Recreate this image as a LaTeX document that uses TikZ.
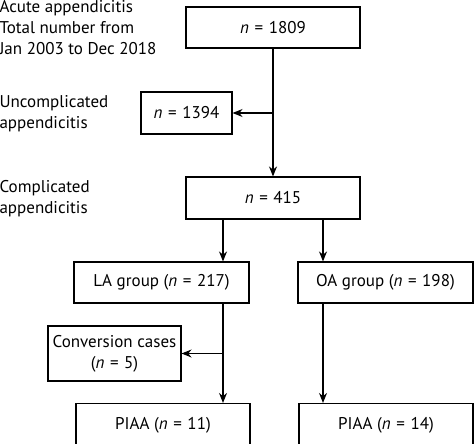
\documentclass[tikz,border=0pt]{standalone}
\usepackage{fontspec}
\setmainfont{PT Sans}
\usetikzlibrary{positioning,arrows.meta,calc}
\newcommand{\nval}[1]{\textit{n}\hspace{0.33em}=\hspace{0.33em}#1}

\begin{document}
\begin{tikzpicture}[x=1pt,y=-1pt,line width=1.1pt,>={Stealth[length=10pt,width=8pt]},
    box/.style={draw,line width=1.1pt,minimum width=174pt,minimum height=41pt,inner sep=2pt,align=center},
    lbl/.style={anchor=west,inner sep=0pt,align=left}]
    \fontsize{17}{21}\selectfont
    \clip (0,0) rectangle (474,444);

    % Left labels
    \node[lbl] (lbltotal) at (-1,28) {Acute appendicitis\\Total number from\\Jan 2003 to Dec 2018};
    \node[lbl] (lblunc) at (-1,113.5) {Uncomplicated\\appendicitis};
    \node[lbl] (lblcomp) at (-1,198.5) {Complicated\\appendicitis};

    % Boxes
    \node[box] (total) at (273,27.5) {\nval{1809}};
    \node[box,minimum width=91pt,minimum height=42pt] (unc) at (186.5,113) {\nval{1394}};
    \node[box,minimum height=42pt] (comp) at (273,198) {\nval{415}};
    \node[box,minimum width=175pt] (la) at (161.5,282.5) {LA group (\nval{217})};
    \node[box,minimum width=175pt] (oa) at (385.5,282.5) {OA group (\nval{198})};
    \node[box,minimum width=133pt,minimum height=55pt] (conv) at (114.5,353.5) {Conversion cases\\(\nval{5})};
    \node[box,minimum height=43pt] (piaala) at (163,425) {PIAA (\nval{11})};
    \node[box,minimum height=43pt] (piaaoa) at (386,425) {PIAA (\nval{14})};

    % Branch points
    \coordinate (splitunc) at (total.south |- unc.east);
    \coordinate (lastart) at ([xshift=-50pt]comp.south);
    \coordinate (oastart) at ([xshift=50pt]comp.south);
    \coordinate (lastop) at (lastart |- la.south);
    \coordinate (splitconv) at (lastart |- conv.east);

    % Arrows
    \draw[->] (total) -- (comp);
    \draw[->] (splitunc) -- (unc);
    \draw[->] (lastart) -- (lastart |- la.north);
    \draw[->] (oastart) -- (oastart |- oa.north);
    \draw[->] (splitconv) -- (conv);
    \draw[->] (lastop) -- (lastop |- piaala.north);
    \draw[->] (oastart |- oa.south) -- (oastart |- piaaoa.north);
\end{tikzpicture}
\end{document}
